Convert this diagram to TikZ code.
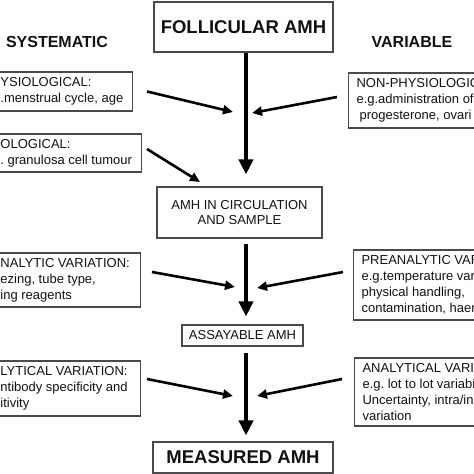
\documentclass[tikz,border=0pt]{standalone}
\usepackage{fontspec}
\setmainfont{Liberation Sans}
\usetikzlibrary{arrows.meta}
\definecolor{marcoGris}{HTML}{4A4A4A}
\definecolor{tinta}{HTML}{111111}
\frenchspacing

\begin{document}
\begin{tikzpicture}[x=1pt,y=-1pt,>={Triangle[length=10pt,width=9pt]},
  caja/.style={draw=marcoGris,line width=1.1pt,inner sep=0pt,text=tinta},
  titulo/.style={font=\fontsize{18.5}{22}\selectfont\bfseries},
  columna/.style={text=tinta,font=\fontsize{16}{19}\selectfont\bfseries},
  sub/.style={font=\fontsize{13}{15}\selectfont,align=center},
  nota/.style={caja,align=flush left,font=\fontsize{13}{16}\selectfont},
  notaizq/.style={nota,anchor=east,inner xsep=6pt,text width=#1},
  notader/.style={nota,anchor=west,inner xsep=8pt,text width=160pt},
  flujo/.style={line width=4pt,-{Triangle[length=15pt,width=14pt]}},
  lado/.style={line width=2.6pt,->}]
  \useasboundingbox (0,0) rectangle (474,474);
  \clip (0,0) rectangle (474,474);
  \coordinate (eje) at (246,0);

  \node[caja,titulo,minimum width=179pt,minimum height=50pt] (folicular) at (243.5,27) {FOLLICULAR AMH};
  \node[columna] (sist) at (57,42) {SYSTEMATIC};
  \node[columna] (vari) at (412,42) {VARIABLE};
  \node[caja,sub,minimum width=165pt,minimum height=51pt] (circ) at (239.5,212.5) {AMH IN CIRCULATION\\AND SAMPLE};
  \node[caja,sub,minimum width=121pt,minimum height=21pt] (ensayo) at (242.5,335.5) {ASSAYABLE AMH};
  \node[caja,titulo,minimum width=180pt,minimum height=31pt] (medido) at (243,457.5) {MEASURED AMH};

  \node[notaizq=126pt,minimum height=39pt] (fisio) at (133,91.5) {YSIOLOGICAL:\\.menstrual cycle, age};
  \node[notaizq=135pt,minimum height=38pt] (pato) at (142,153) {OLOGICAL:\\. granulosa cell tumour};
  \node[notaizq=134pt,minimum height=54pt] (preizq) at (141,280) {NALYTIC VARIATION:\\ezing, tube type,\\ing reagents};
  \node[notaizq=134pt,minimum height=55pt] (analizq) at (141,388.5) {LYTICAL VARIATION:\\ntibody specificity and\\itivity};
  \node[notader,minimum height=55pt] (nofisio) at (348,100.5) {NON-PHYSIOLOGIC\\e.g.administration of\\\hspace*{3pt}progesterone, ovari};
  \node[notader,minimum height=70pt] (preder) at (353,285) {PREANALYTIC VAR\\e.g.temperature var\\physical handling,\\contamination, haem};
  \node[notader,minimum height=68pt] (analder) at (354,392) {ANALYTICAL VARI\\e.g. lot to lot variabi\\Uncertainty, intra/in\\variation};

  \coordinate (t1) at (233,112);
  \coordinate (t2) at (200,182);
  \coordinate (t3) at (235,287);
  \coordinate (t4) at (233,396);
  \coordinate (u1) at (252,113);
  \coordinate (u3) at (257,288);
  \coordinate (u4) at (257,396);

  \draw[flujo,shorten >=12pt] (folicular.south -| eje) -- (circ.north -| eje);
  \draw[flujo,shorten <=5pt,shorten >=8pt] (circ.south -| eje) -- (ensayo.north -| eje);
  \draw[flujo,shorten <=6pt,shorten >=6pt] (ensayo.south -| eje) -- (medido.north -| eje);

  \draw[lado] ([xshift=14pt]fisio.east) -- (t1);
  \draw[lado] ([xshift=5pt,yshift=4pt]pato.east) -- (t2);
  \draw[lado] ([xshift=11pt,yshift=8pt]preizq.east) -- (t3);
  \draw[lado] ([xshift=6pt,yshift=9.5pt]analizq.east) -- (t4);
  \draw[lado] ([xshift=-11pt,yshift=3.5pt]nofisio.west) -- (u1);
  \draw[lado] ([xshift=-10pt,yshift=13pt]preder.west) -- (u3);
  \draw[lado] ([xshift=-12pt,yshift=13pt]analder.west) -- (u4);
\end{tikzpicture}
\end{document}
